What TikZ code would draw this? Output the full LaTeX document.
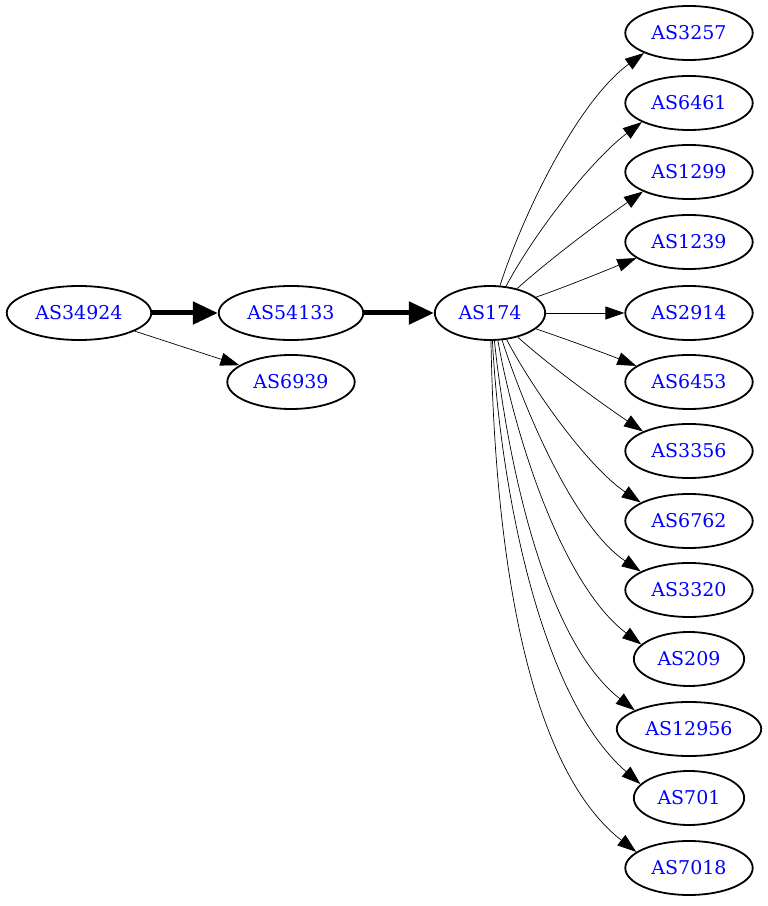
\documentclass[tikz,border=0pt]{standalone}
\usepackage{fontspec}
\setmainfont{DejaVu Serif}
\usepackage{tikz}
\usetikzlibrary{arrows.meta,shapes.geometric}

\begin{document}
\begin{tikzpicture}[
x=1pt,y=1pt,
asn/.style={draw, ellipse, line width=1.8pt, inner xsep=7.5pt, inner ysep=2pt,
  minimum height=54pt, text=blue, font=\fontsize{19}{21}\selectfont},
edge/.style={-{Triangle[length=19pt,width=13pt]}, line width=0.7pt, looseness=0.75},
main/.style={-{Triangle[length=25pt,width=22pt]}, line width=5pt}
]
\useasboundingbox (0,0) rectangle (768,906);

% left part of the path
\node[asn] (as34924) at (79,593) {AS34924};
\node[asn] (as54133) at (291,593) {AS54133};
\node[asn] (as6939) at (291,524) {AS6939};
\node[asn] (as174) at (490,593) {AS174};

% upstreams of AS174
\node[asn] (as3257) at (689,873) {AS3257};
\node[asn] (as6461) at (689,803) {AS6461};
\node[asn] (as1299) at (689,734) {AS1299};
\node[asn] (as1239) at (689,664) {AS1239};
\node[asn] (as2914) at (689,593) {AS2914};
\node[asn] (as6453) at (689,524) {AS6453};
\node[asn] (as3356) at (689,455) {AS3356};
\node[asn] (as6762) at (689,385) {AS6762};
\node[asn] (as3320) at (689,316) {AS3320};
\node[asn] (as209) at (689,247) {AS209};
\node[asn] (as12956) at (689,177) {AS12956};
\node[asn] (as701) at (689,108) {AS701};
\node[asn] (as7018) at (689,38) {AS7018};

\draw[main] (as34924) -- (as54133);
\draw[main] (as54133) -- (as174);
\draw[edge] (as34924) -- (as6939);

\draw[edge] (as174.70) to[out=72,in=216] (as3257.204);
\draw[edge] (as174.59) to[out=62,in=217] (as6461.202);
\draw[edge] (as174.42) to[out=42,in=215] (as1299.203);
\draw[edge] (as174.19) to[out=19,in=202] (as1239.197);
\draw[edge] (as174) -- (as2914);
\draw[edge] (as174.-19) to[out=-19,in=158] (as6453.163);
\draw[edge] (as174.-41) to[out=-42,in=146] (as3356.157);
\draw[edge] (as174.-58) to[out=-62,in=146] (as6762.159);
\draw[edge] (as174.-66) to[out=-72,in=146] (as3320.159);
\draw[edge] (as174.-74) to[out=-80,in=143] (as209.163);
\draw[edge] (as174.-81) to[out=-84,in=142] (as12956.161);
\draw[edge] (as174.-85) to[out=-87,in=139] (as701.164);
\draw[edge] (as174.-88) to[out=-89,in=142] (as7018.163);
\end{tikzpicture}
\end{document}
